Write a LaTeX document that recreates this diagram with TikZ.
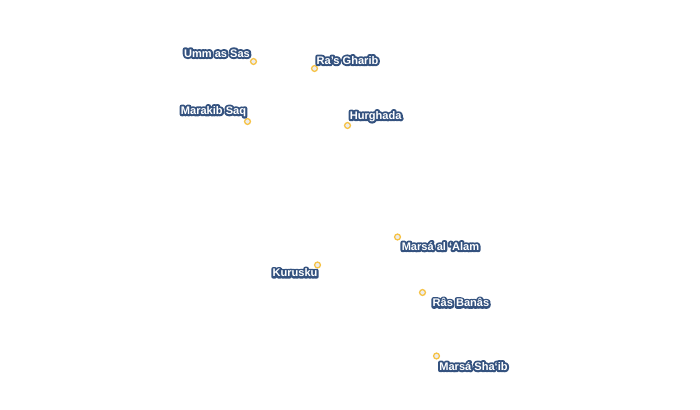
\documentclass[tikz,border=0pt]{standalone}
\usepackage{fontspec}
\usepackage{xcolor}
\setmainfont{Liberation Sans}
\definecolor{halo}{HTML}{34527F}
\definecolor{gold}{HTML}{F6C244}
\definecolor{core}{HTML}{ECECEC}
\newcommand{\placename}[1]{\leavevmode\rlap{\color{halo}\special{pdf:code 2 Tr 3 w 1 j 1 J 0.204 0.322 0.498 RG}#1\special{pdf:code 0 Tr 1 w 0 j 0 J}}#1}
\tikzset{
  pt/.style={circle, fill=core, draw=gold, line width=0.95pt, minimum size=4.4pt, inner sep=0pt},
  lab/.style={text=white, inner sep=0pt, font=\fontsize{8.3}{10}\selectfont\bfseries}
}

\begin{document}
\begin{tikzpicture}[x=0.75pt,y=-0.75pt]
  \useasboundingbox (0,0) rectangle (700,410);

  % places
  \node[pt] (ummsas) at (253.5,61.5) {};
  \node[pt] (gharib) at (314.5,68.5) {};
  \node[pt] (marakib) at (247.5,121.5) {};
  \node[pt] (hurghada) at (347.5,125.5) {};
  \node[pt] (alam) at (397.5,237) {};
  \node[pt] (kurusku) at (317.5,265) {};
  \node[pt] (banas) at (422.5,292.5) {};
  \node[pt] (shaib) at (436.5,356) {};

  % names
  \node[lab] (ummsaslab) at (217,53.2) {\placename{Umm as Sas}};
  \node[lab] (ghariblab) at (347.5,60.2) {\placename{Ra\char39 s Gharib}};
  \node[lab] (marakiblab) at (213.5,111.4) {\placename{Marakib Saq}};
  \node[lab] (hurghadalab) at (375.7,116.4) {\placename{Hurghada}};
  \node[lab] (alamlab) at (440.5,246.2) {\placename{Marsá al \char96 Alam}};
  \node[lab] (kuruskulab) at (295,272.7) {\placename{Kurusku}};
  \node[lab] (banaslab) at (461,302.7) {\placename{Râs Banâs}};
  \node[lab] (shaiblab) at (473.5,366.2) {\placename{Marsá Sha\char96 ib}};
\end{tikzpicture}
\end{document}
